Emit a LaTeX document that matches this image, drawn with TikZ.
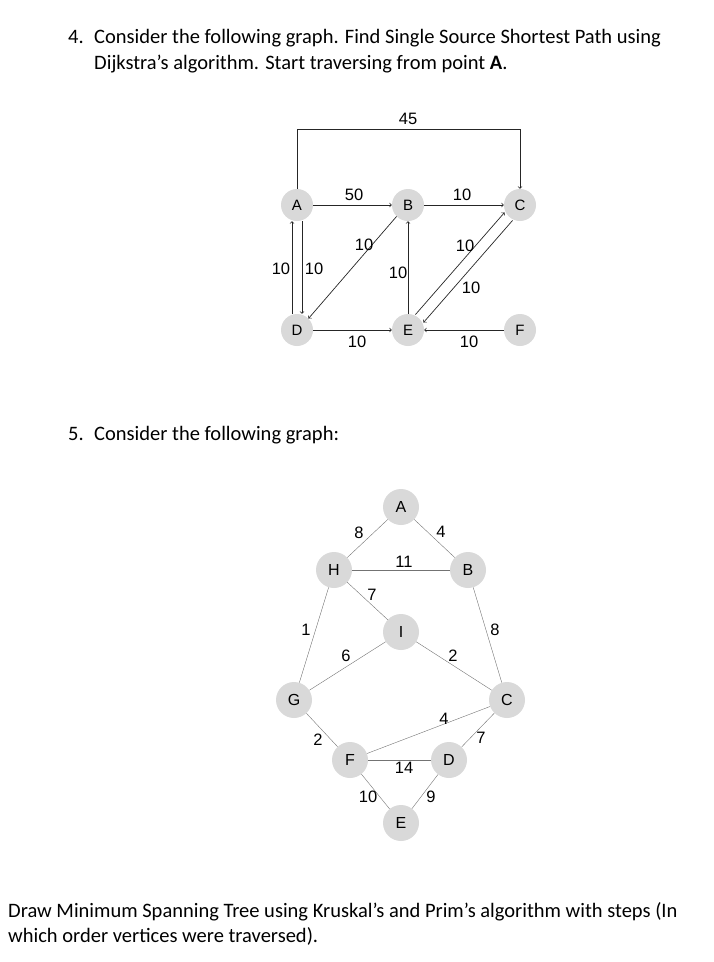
\documentclass[tikz,border=0pt]{standalone}
\usepackage{fontspec}
\setmainfont{Carlito}
\newfontfamily\arialf{Liberation Sans}
\begin{document}
\begin{tikzpicture}[x=1pt,y=-1pt,
  tnode/.style={circle,fill=black!15,minimum size=32pt,inner sep=0pt,font=\arialf\fontsize{15}{17}\selectfont},
  bnode/.style={circle,fill=black!15,minimum size=36pt,inner sep=0pt,font=\arialf\fontsize{16}{18}\selectfont},
  arr/.style={->,>=to,line width=0.7pt,black!85},
  ed/.style={line width=0.4pt,black!55},
  lab/.style={font=\arialf\fontsize{16.5}{18}\selectfont,inner sep=0pt},
  txt/.style={font=\fontsize{20.5}{24}\selectfont,anchor=base west,inner sep=0pt}]
\useasboundingbox (0,0) rectangle (713,962);
\node[txt] (t1) at (68,43) {4.};
\node[txt] (t1b) at (94,43) {Consider the following graph. Find Single Source Shortest Path using};
\node[txt] (t2) at (94,69) {Dijkstra’s algorithm. Start traversing from point \textbf{A}.};
\node[txt] (t5) at (68,440) {5.};
\node[txt] (t5b) at (94,440) {Consider the following graph:};
\node[txt] (t6) at (8,917) {Draw Minimum Spanning Tree using Kruskal’s and Prim’s algorithm with steps (In};
\node[txt] (t7) at (8,942) {which order vertices were traversed).};
% top graph
\node[tnode] (A) at (297,205) {A};
\node[tnode] (B) at (408,205) {B};
\node[tnode] (C) at (520,205) {C};
\node[tnode] (D) at (297,330) {D};
\node[tnode] (E) at (408,330) {E};
\node[tnode] (F) at (520,330) {F};
\coordinate (k1) at (297,129);
\coordinate (k2) at (520,129);
\draw[arr] (A.north) -- (k1) -- (k2) -- (C.north);
\draw[arr] (A) -- (B);
\draw[arr] (B) -- (C);
\draw[arr] ([xshift=5pt]A.south) -- ([xshift=5pt]D.north);
\draw[arr] ([xshift=-5pt]D.north) -- ([xshift=-5pt]A.south);
\draw[arr] (B.225) -- (D.45);
\draw[arr] (E) -- (B);
\draw[arr] (D) -- (E);
\draw[arr] (F) -- (E);
\draw[arr] ([shift={(-4pt,4pt)}]E.45) -- ([shift={(-4pt,4pt)}]C.225);
\draw[arr] ([shift={(4pt,-4pt)}]C.225) -- ([shift={(4pt,-4pt)}]E.45);
\node[lab] (l45) at (408,119) {45};
\node[lab] (l50) at (354,195) {50};
\node[lab] (lbc) at (462,195) {10};
\node[lab] (lbd) at (364,245) {10};
\node[lab] (lda) at (281,269) {10};
\node[lab] (lad) at (314,269) {10};
\node[lab] (leb) at (398,273) {10};
\node[lab] (lec) at (465,246) {10};
\node[lab] (lce) at (471,288) {10};
\node[lab] (lde) at (357,342) {10};
\node[lab] (lfe) at (469,342) {10};
% bottom graph
\node[bnode] (bA) at (401,507) {A};
\node[bnode] (bH) at (334,570) {H};
\node[bnode] (bB) at (468,570) {B};
\node[bnode] (bI) at (401,632) {I};
\node[bnode] (bG) at (294,700) {G};
\node[bnode] (bC) at (507,700) {C};
\node[bnode] (bF) at (350,760) {F};
\node[bnode] (bD) at (449,760) {D};
\node[bnode] (bE) at (401,823) {E};
\draw[ed] (bA) -- (bH);
\draw[ed] (bA) -- (bB);
\draw[ed] (bH) -- (bB);
\draw[ed] (bH) -- (bI);
\draw[ed] (bH) -- (bG);
\draw[ed] (bB) -- (bC);
\draw[ed] (bI) -- (bG);
\draw[ed] (bI) -- (bC);
\draw[ed] (bG) -- (bF);
\draw[ed] (bC) -- (bF);
\draw[ed] (bC) -- (bD);
\draw[ed] (bF) -- (bD);
\draw[ed] (bF) -- (bE);
\draw[ed] (bD) -- (bE);
\node[lab] at (359,533) {8};
\node[lab] at (441,532) {4};
\node[lab] at (404,562) {11};
\node[lab] at (372,595) {7};
\node[lab] at (306,630) {1};
\node[lab] at (495,630) {8};
\node[lab] at (346,656) {6};
\node[lab] at (453,656) {2};
\node[lab] at (444,719) {4};
\node[lab] at (318,740) {2};
\node[lab] at (481,738) {7};
\node[lab] at (404,768) {14};
\node[lab] at (368,797) {10};
\node[lab] at (431,797) {9};
\end{tikzpicture}
\end{document}
